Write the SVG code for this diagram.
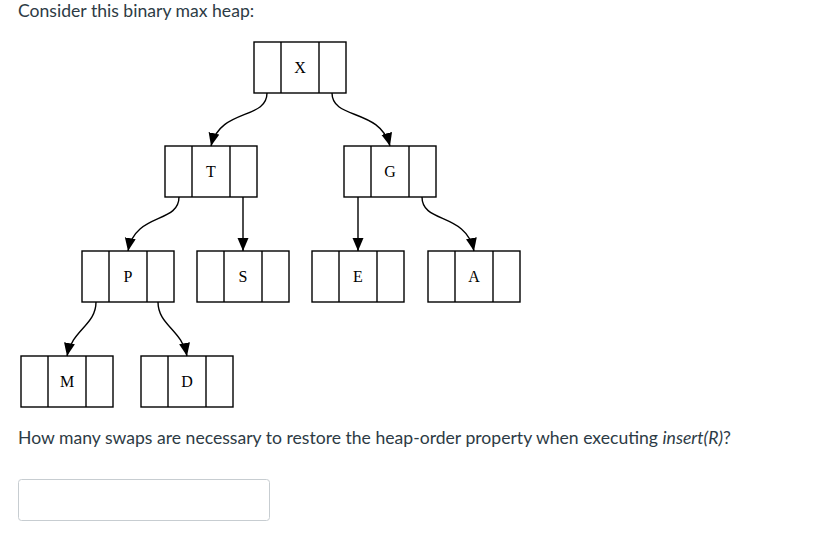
<svg xmlns="http://www.w3.org/2000/svg" width="826" height="540" viewBox="0 0 826 540">
<style>
.b{fill:#fff;stroke:#000;stroke-width:1.4}
.l{font-family:"Liberation Serif",serif;font-size:16px;text-anchor:middle}
.e{fill:none;stroke:#000;stroke-width:1.4}
.t{font-family:Lato,"Liberation Sans",sans-serif;font-size:17.6px;fill:#2d3b45}
</style>
<defs>
<marker id="a" markerWidth="14" markerHeight="12" refX="13" refY="5.5" orient="auto" markerUnits="userSpaceOnUse"><path d="M0,0L13,5.5L0,11Z"/></marker>
<g id="n"><rect class="b" x="0" y="0" width="92" height="51"/><line class="b" x1="27" y1="0" x2="27" y2="51"/><line class="b" x1="65" y1="0" x2="65" y2="51"/></g>
</defs>
<rect width="826" height="540" fill="#fff"/>
<text class="t" x="18" y="17">Consider this binary max heap:</text>
<g id="nX"><use href="#n" x="254" y="42"/><text class="l" x="300" y="73">X</text></g>
<g id="nT"><use href="#n" x="165" y="146"/><text class="l" x="211" y="177">T</text></g>
<g id="nG"><use href="#n" x="344" y="146"/><text class="l" x="390" y="177">G</text></g>
<g id="nP"><use href="#n" x="82" y="251"/><text class="l" x="128" y="282">P</text></g>
<g id="nS"><use href="#n" x="197" y="251"/><text class="l" x="243" y="282">S</text></g>
<g id="nE"><use href="#n" x="312" y="251"/><text class="l" x="358" y="282">E</text></g>
<g id="nA"><use href="#n" x="428" y="251"/><text class="l" x="474" y="282">A</text></g>
<g id="nM"><use href="#n" x="21" y="356"/><text class="l" x="67" y="387">M</text></g>
<g id="nD"><use href="#n" x="141" y="356"/><text class="l" x="187" y="387">D</text></g>
<g id="edges">
<path class="e" d="M267,93C267,120 220,108 211,146" marker-end="url(#a)"/>
<path class="e" d="M332,93C332,120 380,108 390,146" marker-end="url(#a)"/>
<path class="e" d="M179,197C179,224 135,212 128,251" marker-end="url(#a)"/>
<path class="e" d="M243,197L243,251" marker-end="url(#a)"/>
<path class="e" d="M358,197L358,251" marker-end="url(#a)"/>
<path class="e" d="M422,197C422,224 466,212 474,251" marker-end="url(#a)"/>
<path class="e" d="M96,302C96,325 72,330 67,356" marker-end="url(#a)"/>
<path class="e" d="M158,302C158,325 182,330 187,356" marker-end="url(#a)"/>
</g>
<text class="t" x="18" y="444">How many swaps are necessary to restore the heap-order property when executing <tspan font-style="italic">insert(R)</tspan>?</text>
<rect x="18.5" y="479.5" width="251" height="41" rx="3" fill="#fff" stroke="#c7cdd1"/>
</svg>
